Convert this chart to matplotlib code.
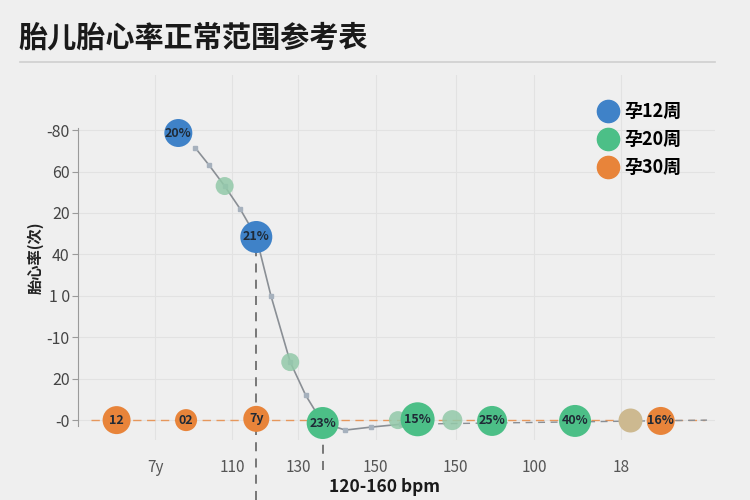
import matplotlib.pyplot as plt
from matplotlib.lines import Line2D

plt.rcParams['font.family'] = ['Noto Sans CJK SC', 'DejaVu Sans']

title = "胎儿胎心率正常范围参考表"
x_label = "120-160 bpm"
y_label = "胎心率(次)"

# bubbles: bpm, value, size, label, group
blue_x = [96, 116.2]
blue_y = [69.3, 44.2]
blue_s = [14, 16]
blue_lab = ["20%", "21%"]

green_x = [133.4, 158, 177.3, 198.8]
green_y = [-0.7, 0.2, -0.2, -0.2]
green_s = [16, 17, 15, 16]
green_lab = ["23%", "15%", "25%", "40%"]

pale_x = [108, 125, 152.9, 167]
pale_y = [56.5, 14, 0, 0]
pale_s = [9, 9, 9, 10]

tan_x = [213]
tan_y = [0]
tan_s = [12]

orange_x = [80, 98, 116.2, 221]
orange_y = [0, 0, 0.3, -0.2]
orange_s = [14, 11, 13, 14]
orange_lab = ["12", "02", "7y", "16%"]

curve_x = [100.4, 104, 108, 112, 116.2, 120, 125, 129, 133.4, 139.3, 145.8, 153.6]
curve_y = [65.7, 61.5, 56.5, 51, 44.2, 30, 14, 6, -0.7, -2.4, -1.7, -1.0]
flat_x = [153.6, 233]
flat_y = [-1.0, 0]

xticks = [90, 110, 127.1, 147.1, 167.9, 188.2, 210.8]
xtick_labels = ["7y", "110", "130", "150", "150", "100", "18"]
yticks = [0, 10, 20, 30, 40, 50, 60, 70]
ytick_labels = ["-0", "20", "-10", "1 0", "40", "20", "60", "-80"]

legend_names = ["孕12周", "孕20周", "孕30周"]

c_blue = "#3f82c8"
c_green = "#4cbf87"
c_orange = "#e8843a"
c_pale = "#93c9a9"
c_tan = "#cdb990"
bg = "#efefef"

fig = plt.figure(figsize=(7.5, 5), dpi=100, facecolor=bg)
ax = fig.add_axes([0.104, 0.12, 0.849, 0.73])
ax.set_facecolor(bg)
ax.set_xlim(70, 235)
ax.set_ylim(-4.8, 83.3)

for s in ["top", "right", "bottom"]:
    ax.spines[s].set_visible(False)
ax.spines["left"].set_color("#9a9a9a")
ax.spines["left"].set_bounds(-1.5, 70.5)

ax.set_xticks(xticks)
ax.set_xticklabels(xtick_labels, fontsize=11, color="#555555")
ax.tick_params(axis="x", length=0, pad=14)
ax.set_yticks(yticks)
ax.set_yticklabels(ytick_labels, fontsize=11.5, color="#444444")
ax.tick_params(axis="y", length=4, color="#9a9a9a", pad=2)

ax.grid(True, color="#e2e2e2", linewidth=0.8)
ax.set_axisbelow(True)


def px2(r):
    # radius in px -> scatter area
    return (2 * r / 1.389) ** 2


ax.axhline(0, xmin=0.02, xmax=0.985, color=c_orange, lw=1.0, ls=(0, (6, 4)), alpha=0.8, zorder=1)
ax.plot(curve_x, curve_y, color="#8a8f95", lw=1.2, zorder=2)
ax.plot(curve_x, curve_y, ls="none", marker="s", ms=3, color="#a6b1bd", zorder=2)
ax.plot(flat_x, flat_y, color="#8a8f95", lw=1.0, ls=(0, (5, 4)), zorder=2)

ax.vlines(blue_x[1], -19.3, blue_y[1], colors="#6e6e6e", linestyles=(0, (5, 4)), lw=1.3, clip_on=False, zorder=2)
ax.vlines(green_x[0], -12, green_y[0], colors="#6e6e6e", linestyles=(0, (5, 4)), lw=1.3, clip_on=False, zorder=2)

ax.scatter(pale_x, pale_y, s=[px2(r) for r in pale_s], color=c_pale, alpha=0.85, zorder=3, lw=0)
ax.scatter(tan_x, tan_y, s=[px2(r) for r in tan_s], color=c_tan, zorder=3, lw=0)
ax.scatter(blue_x, blue_y, s=[px2(r) for r in blue_s], color=c_blue, zorder=4, lw=0)
ax.scatter(green_x, green_y, s=[px2(r) for r in green_s], color=c_green, zorder=4, lw=0)
ax.scatter(orange_x, orange_y, s=[px2(r) for r in orange_s], color=c_orange, zorder=4, lw=0)

for xs, ys, labs in [(blue_x, blue_y, blue_lab), (green_x, green_y, green_lab), (orange_x, orange_y, orange_lab)]:
    for x, y, t in zip(xs, ys, labs):
        ax.text(x, y, t, ha="center", va="center", fontsize=9, fontweight="bold", color="#1f2a36", zorder=5)

fig.text(0.513, 0.026, x_label, fontsize=12.5, fontweight="bold", color="#1a1a1a", ha="center", va="center")
ax.set_ylabel(y_label, fontsize=11, fontweight="bold", color="#222222", labelpad=2)

handles = [Line2D([], [], ls="none", marker="o", ms=16, color=c) for c in (c_blue, c_green, c_orange)]
fig.legend(handles, legend_names, loc="upper left", bbox_to_anchor=(0.775, 0.828), frameon=False,
           prop={"size": 13, "weight": "bold"}, handletextpad=0.3, labelspacing=0.5, handlelength=1.2)

fig.text(0.024, 0.924, title, fontsize=21, fontweight="bold", color="#1a1a1a", ha="left", va="center")
fig.add_artist(Line2D([0.027, 0.953], [0.876, 0.876], color="#cfcfcf", lw=1.2))

fig.savefig("out.png", dpi=100, facecolor=bg)
